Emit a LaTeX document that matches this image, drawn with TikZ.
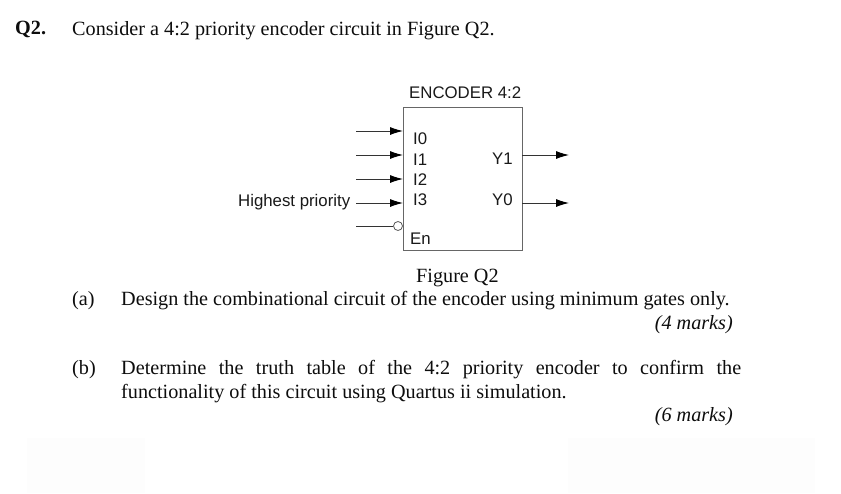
\documentclass[tikz,border=0pt]{standalone}
\usepackage{fontspec}
\setmainfont{Liberation Serif}
\newfontfamily\arialf{Liberation Sans}
\usetikzlibrary{arrows.meta}
\tikzset{
 x=1pt,y=-1pt,
 txt/.style={anchor=base west,inner sep=0pt,font=\fontsize{20.2}{20}\selectfont,text=black!95},
 diag/.style={anchor=base west,inner sep=0pt,font=\arialf\fontsize{16.8}{17}\selectfont,text=black!90},
 wire/.style={draw=black!80,line width=0.9pt},
 arr/.style={wire,-{Latex[length=13pt,width=8pt,black]}},
 box/.style={draw=black!60,line width=1.1pt,fill=white},
 bubble/.style={circle,draw=black!65,line width=0.8pt,fill=white,inner sep=0pt,minimum size=9pt}
}
\begin{document}
\begin{tikzpicture}
\useasboundingbox (0,0) rectangle (841,493);
\fill[white] (0,0) rectangle (841,493);
% faint ghost background
\fill[black!0.6] (27,438) rectangle (145,493);
\fill[black!0.6] (568,438) rectangle (815,493);
% text
\node[txt,font=\bfseries\fontsize{20.2}{20}\selectfont] (q) at (15,34) {Q2.};
\node[txt] (intro) at (72,35) {Consider a 4:2 priority encoder circuit in Figure Q2.};
\node[txt] (fig) at (416,282) {Figure Q2};
\node[txt] (a) at (72,305) {(a)};
\node[txt] (atext) at (121,305) {Design the combinational circuit of the encoder using minimum gates only.};
\node[txt,anchor=base east,font=\itshape\fontsize{20.2}{20}\selectfont] (am) at (733,329) {(4 marks)};
\node[txt] (b) at (72,374) {(b)};
\node[txt] (btext) at (121,374) {\makebox[620pt][s]{Determine the truth table of the 4:2 priority encoder to confirm the}};
\node[txt] (btext2) at (121,398) {functionality of this circuit using Quartus ii simulation.};
\node[txt,anchor=base east,font=\itshape\fontsize{20.2}{20}\selectfont] (bm) at (733,421) {(6 marks)};
% block
\node[box,minimum width=119pt,minimum height=143pt,inner sep=0pt,anchor=north west] (enc) at (403,107) {};
\node[diag] (title) at (409,98) {ENCODER 4:2};
\node[diag] (hp) at (238,206) {Highest priority};
\node[diag] (i0) at (413,144) {I0};
\node[diag] (i1) at (413,165) {I1};
\node[diag] (i2) at (413,185) {I2};
\node[diag] (i3) at (413,205) {I3};
\node[diag] (en) at (410,244) {En};
\node[diag] (y1) at (492,164) {Y1};
\node[diag] (y0) at (492,205) {Y0};
\coordinate (a0) at (356,131); \coordinate (b0) at (403,131);
\coordinate (a1) at (356,155); \coordinate (b1) at (403,155);
\coordinate (a2) at (356,179); \coordinate (b2) at (403,179);
\coordinate (a3) at (356,203); \coordinate (b3) at (403,203);
\coordinate (a4) at (356,226);
\node[bubble] (bub) at (398,226) {};
\coordinate (c1) at (522,155); \coordinate (d1) at (569,155);
\coordinate (c0) at (522,203); \coordinate (d0) at (569,203);
\draw[arr] (a0) -- (b0);
\draw[arr] (a1) -- (b1);
\draw[arr] (a2) -- (b2);
\draw[arr] (a3) -- (b3);
\draw[wire] (a4) -- (bub);
\draw[arr] (c1) -- (d1);
\draw[arr] (c0) -- (d0);
\end{tikzpicture}
\end{document}
